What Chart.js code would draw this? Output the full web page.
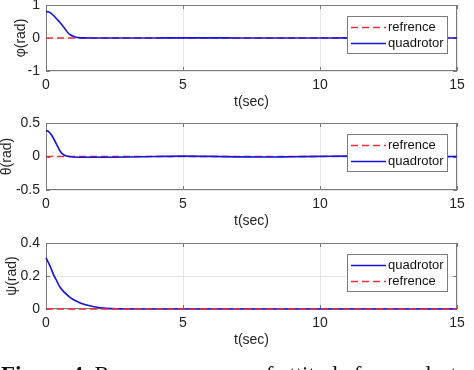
<!DOCTYPE html>
<html>
<head>
<meta charset="utf-8">
<script src="https://cdn.jsdelivr.net/npm/chart.js@4.4.1/dist/chart.umd.min.js"></script>
<style>
  html, body { margin: 0; padding: 0; background: #fff; }
  body { width: 474px; height: 370px; position: relative; overflow: hidden; }
  .panel { position: absolute; left: 0; width: 474px; height: 130px; }
  #caption {
    position: absolute; left: 1px; top: 363px;
    font-family: "Liberation Serif", "Times New Roman", serif;
    font-size: 23px; line-height: 23px; white-space: nowrap; color: #111;
  }
</style>
</head>
<body>
<div class="panel" id="phiWrap"><canvas id="phiChart" width="474" height="130"></canvas></div>
<div class="panel" id="thetaWrap"><canvas id="thetaChart" width="474" height="130"></canvas></div>
<div class="panel" id="psiWrap"><canvas id="psiChart" width="474" height="130"></canvas></div>
<div id="caption"><b>Figure 4.</b> Response curves of attitude for quadrotor</div>

<script>
// time axis 0..15 s
const xTickStep = 5;
const xMax = 15;

// reference (all zero)
const refTime = [0, 15];
const refValues = [0, 0];

// roll
const phiTime = [0, 0.1, 0.2, 0.3, 0.4, 0.5, 0.6, 0.7, 0.8, 0.9, 1.0, 1.1, 1.2, 1.4, 1.7, 2, 3, 4, 5, 6, 7, 8, 9, 10, 11, 12, 13, 14, 15];
const phiValues = [0.80, 0.79, 0.74, 0.66, 0.57, 0.48, 0.38, 0.27, 0.16, 0.09, 0.05, 0.025, 0.012, 0.004, 0, 0, 0, 0.002, 0.004, 0.003, 0.002, 0, -0.002, 0, 0.003, 0.004, 0.002, 0, 0];

// pitch
const thetaTime = [0, 0.1, 0.2, 0.3, 0.4, 0.5, 0.6, 0.7, 0.8, 1.0, 1.5, 2, 3, 4, 5, 6, 7, 8, 9, 10, 11, 12, 13, 14, 15];
const thetaValues = [0.39, 0.37, 0.32, 0.25, 0.17, 0.09, 0.04, 0.015, 0.003, -0.008, -0.012, -0.012, -0.008, 0, 0.006, 0.002, -0.006, -0.008, -0.003, 0.002, 0.006, 0.003, 0, -0.003, 0];

// yaw
const psiTime = [0, 0.15, 0.27, 0.4, 0.5, 0.7, 0.9, 1.1, 1.35, 1.75, 2.2, 2.7, 3.2, 15];
const psiValues = [0.31, 0.26, 0.21, 0.168, 0.135, 0.096, 0.068, 0.048, 0.03, 0.014, 0.004, 0.001, 0, 0];

const blue = "#1414dc";
const red = "#f0303c";
const axisColor = "#7a7a7a";
const gridColor = "#e6e6e6";
const textColor = "#222";
const sans = "'Liberation Sans', Arial, sans-serif";
const xAxisHeight = 44;

Chart.defaults.font.family = sans;
Chart.defaults.color = textColor;

function points(xs, ys) {
  return xs.map((x, i) => ({ x, y: ys[i] }));
}

function quadSet(xs, ys) {
  return {
    label: "quadrotor",
    data: points(xs, ys),
    borderColor: blue,
    borderWidth: 1.6,
    pointRadius: 0,
    cubicInterpolationMode: "monotone",
    clip: 4,
    order: 2,
  };
}

function refSet(order) {
  return {
    label: "refrence",
    data: points(refTime, refValues),
    borderColor: red,
    borderWidth: 1.6,
    borderDash: [7, 4],
    pointRadius: 0,
    clip: 4,
    order,
  };
}

// box round the plot area with MATLAB-style inward ticks, plus the legend box
const framePlugin = {
  id: "frame",
  beforeDatasetsDraw(chart) {
    const { ctx, chartArea: a, scales } = chart;
    ctx.save();
    ctx.strokeStyle = axisColor;
    ctx.lineWidth = 1;
    ctx.strokeRect(Math.round(a.left) + 0.5, Math.round(a.top) + 0.5, Math.round(a.width) - 1, Math.round(a.height) - 1);
    ctx.beginPath();
    scales.x.ticks.forEach((t) => {
      const px = Math.round(scales.x.getPixelForValue(t.value)) + 0.5;
      ctx.moveTo(px, a.bottom); ctx.lineTo(px, a.bottom - 4);
      ctx.moveTo(px, a.top); ctx.lineTo(px, a.top + 4);
    });
    scales.y.ticks.forEach((t) => {
      const py = Math.round(scales.y.getPixelForValue(t.value)) + 0.5;
      ctx.moveTo(a.left, py); ctx.lineTo(a.left + 4, py);
      ctx.moveTo(a.right, py); ctx.lineTo(a.right - 4, py);
    });
    ctx.stroke();
    ctx.restore();
  },
  afterDatasetsDraw(chart) {
    const { ctx, chartArea: a } = chart;
    const sets = chart.data.datasets;
    const boxRight = Math.round(a.right) - 10, boxLeft = boxRight - 100;
    const boxTop = Math.round(a.top) + 11, boxH = 37;
    ctx.save();
    ctx.fillStyle = "#fff";
    ctx.fillRect(boxLeft, boxTop, boxRight - boxLeft, boxH);
    ctx.strokeStyle = axisColor;
    ctx.lineWidth = 1;
    ctx.strokeRect(boxLeft + 0.5, boxTop + 0.5, boxRight - boxLeft, boxH);
    ctx.font = "13px " + sans;
    ctx.textBaseline = "middle";
    sets.forEach((ds, i) => {
      const y = boxTop + 11.5 + i * 16;
      ctx.strokeStyle = ds.borderColor;
      ctx.lineWidth = 1.6;
      ctx.setLineDash(ds.borderDash || []);
      ctx.beginPath();
      ctx.moveTo(boxLeft + 4, y);
      ctx.lineTo(boxLeft + 39, y);
      ctx.stroke();
      ctx.setLineDash([]);
      ctx.fillStyle = "#111";
      ctx.fillText(ds.label, boxLeft + 41, y);
    });
    ctx.restore();
  },
};

// areaTop / areaHeight: where the plot box should sit on the page
function makePanel(id, wrapId, yLabel, yMin, yMax, yStep, datasets, areaTop, areaHeight, labelPad) {
  const canvas = document.getElementById(id);
  const chart = new Chart(canvas, {
    type: "line",
    data: { datasets },
    options: {
      responsive: false,
      animation: false,
      devicePixelRatio: 1,
      layout: { padding: { top: 0, right: 17, left: 0, bottom: 0 } },
      plugins: { legend: { display: false }, tooltip: { enabled: false } },
      scales: {
        x: {
          type: "linear",
          min: 0,
          max: xMax,
          ticks: { stepSize: xTickStep, padding: 6, font: { size: 14, lineHeight: "16px" }, color: textColor, maxRotation: 0 },
          grid: { color: gridColor, drawTicks: false },
          border: { display: false },
          title: { display: true, text: "t(sec)", font: { size: 14 }, color: textColor, padding: { top: 0, bottom: 4 } },
          afterFit(scale) { scale.height = xAxisHeight; },
        },
        y: {
          min: yMin,
          max: yMax,
          ticks: { stepSize: yStep, padding: 6, font: { size: 14, lineHeight: "16px" }, color: textColor },
          grid: { color: gridColor, drawTicks: false },
          border: { display: false },
          title: { display: true, text: yLabel, font: { size: 14 }, color: textColor, padding: { top: labelPad, bottom: 0 } },
          afterFit(scale) { scale.width = 46; },
        },
      },
    },
    plugins: [framePlugin],
  });
  // the top offset comes from the tick label padding; size the bottom padding so the box has the wanted height
  for (let i = 0; i < 3; i++) {
    const got = chart.chartArea.bottom - chart.chartArea.top;
    if (Math.abs(got - areaHeight) < 0.01) break;
    chart.options.layout.padding.bottom += got - areaHeight;
    chart.update();
  }
  document.getElementById(wrapId).style.top = Math.round(areaTop - chart.chartArea.top) + "px";
  return chart;
}

makePanel("phiChart", "phiWrap", "φ(rad)", -1, 1, 1, [refSet(3), quadSet(phiTime, phiValues)], 5, 66, 13);
makePanel("thetaChart", "thetaWrap", "θ(rad)", -0.5, 0.5, 0.5, [refSet(3), quadSet(thetaTime, thetaValues)], 123, 67, -1);
makePanel("psiChart", "psiWrap", "ψ(rad)", 0, 0.4, 0.2, [quadSet(psiTime, psiValues), refSet(1)], 243, 66, 4);
</script>
</body>
</html>
